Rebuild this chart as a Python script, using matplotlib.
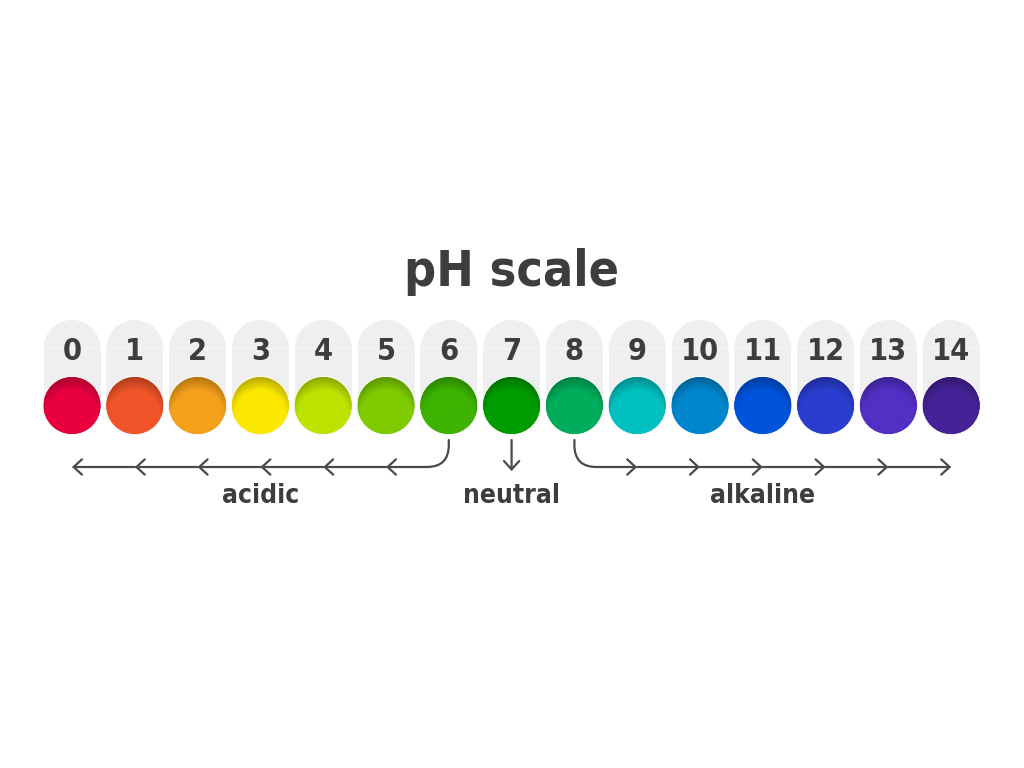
import numpy as np
import matplotlib
matplotlib.use("Agg")
import matplotlib.pyplot as plt
from matplotlib.patches import Circle, Rectangle, Wedge, FancyArrowPatch
from matplotlib.path import Path
from matplotlib.colors import to_rgb
from matplotlib import font_manager as fm

# ---- data ----
ph_values = list(range(15))
ph_labels = [str(v) for v in ph_values]
ph_colors = ["#e8003f", "#f05429", "#f5a01a", "#fbe800", "#bde300",
             "#7ecb00", "#3db300", "#009c00", "#00ad5a", "#00c0c0",
             "#0086cc", "#0053db", "#2a3dcf", "#532fc6", "#452297"]
title = "pH scale"
group_labels = ["acidic", "neutral", "alkaline"]
group_centers = [3, 7, 11]

# pick a condensed bold face if one is installed
cond = [f for f in fm.fontManager.ttflist
        if ("Condensed" in f.name or "Narrow" in f.name or f.stretch in ("condensed", "semi-condensed"))]
if cond:
    FONT = [cond[0].name, "Roboto", "DejaVu Sans"]
    STRETCH = cond[0].stretch
else:
    FONT = ["Roboto", "DejaVu Sans"]
    STRETCH = "normal"
TXT = "#3d3d3d"
LINE = "#4a4a4a"

fig = plt.figure(figsize=(10.24, 7.68), dpi=100)
ax = fig.add_axes([0, 0, 1, 1])
ax.set_xlim(0, 1024)
ax.set_ylim(768, 0)
ax.axis("off")

x0, dx = 72.0, 62.8
xs = [x0 + dx * v for v in ph_values]
cy, r = 405.5, 28.5
pill_top = 320.0

n = 80
gx, gy = np.meshgrid(np.linspace(-1, 1, n), np.linspace(-1, 1, n))
ds = np.sqrt(gx ** 2 + (gy - 0.35) ** 2)
shade = 1 - 0.3 * np.clip((ds - 0.9) / 0.5, 0, 1)

fs_num, fs_title, fs_lab = (22, 36, 19) if cond else (21, 36, 18)

for x, lab, col in zip(xs, ph_labels, ph_colors):
    ax.add_patch(Rectangle((x - r, pill_top + r), 2 * r, cy - pill_top - r,
                           facecolor="#efefef", edgecolor="none", zorder=1))
    ax.add_patch(Wedge((x, pill_top + r), r, 180, 360, facecolor="#efefef",
                       edgecolor="none", zorder=1))
    ax.add_patch(Circle((x, cy), r + 1.2, facecolor="#f7f7f7", edgecolor="none", zorder=1.5))
    c = Circle((x, cy), r, facecolor=col, edgecolor="none", zorder=2)
    ax.add_patch(c)
    rgb = np.array(to_rgb(col))
    img = np.clip(shade[..., None] * rgb[None, None, :], 0, 1)
    im = ax.imshow(img, extent=(x - r, x + r, cy + r, cy - r), zorder=3,
                   interpolation="bilinear")
    im.set_clip_path(c)
    ax.text(x, 352, lab, ha="center", va="center", fontsize=fs_num,
            fontweight="bold", color=TXT, family=FONT, stretch=STRETCH, zorder=4)

ax.text(511, 272, title, ha="center", va="center", fontsize=fs_title,
        fontweight="bold", color=TXT, family=FONT, stretch=STRETCH)

ay = 467
y_start = cy + r + 6
lw = 1.6
akw = dict(arrowstyle="->,head_length=6,head_width=5.5", color=LINE, lw=lw,
           shrinkA=0, shrinkB=0, mutation_scale=1, capstyle="round",
           joinstyle="miter")

rc = 22
xa = xs[6]
path = Path([(xa, y_start), (xa, ay - rc), (xa, ay), (xa - rc, ay), (xs[5], ay)],
            [Path.MOVETO, Path.LINETO, Path.CURVE3, Path.CURVE3, Path.LINETO])
ax.add_patch(FancyArrowPatch(path=path, **akw))
for i in range(5, 0, -1):
    ax.add_patch(FancyArrowPatch((xs[i], ay), (xs[i - 1], ay), **akw))

ax.add_patch(FancyArrowPatch((xs[7], y_start), (xs[7], ay + 4), **akw))

xb = xs[8]
path = Path([(xb, y_start), (xb, ay - rc), (xb, ay), (xb + rc, ay), (xs[9], ay)],
            [Path.MOVETO, Path.LINETO, Path.CURVE3, Path.CURVE3, Path.LINETO])
ax.add_patch(FancyArrowPatch(path=path, **akw))
for i in range(9, 14):
    ax.add_patch(FancyArrowPatch((xs[i], ay), (xs[i + 1], ay), **akw))

for lab, gc in zip(group_labels, group_centers):
    ax.text(xs[gc], 496, lab, ha="center", va="center", fontsize=fs_lab,
            fontweight="bold", color=TXT, family=FONT, stretch=STRETCH)

fig.savefig("out.png", dpi=100, facecolor="white")
